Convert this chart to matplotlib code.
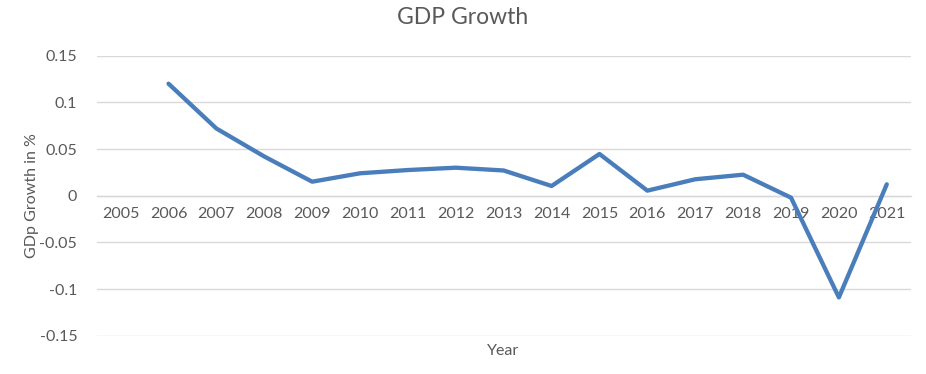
import numpy as np
import matplotlib.pyplot as plt

# values
years = ['2005', '2006', '2007', '2008', '2009', '2010', '2011', '2012', '2013',
         '2014', '2015', '2016', '2017', '2018', '2019', '2020', '2021']
growth = [np.nan, 0.120, 0.072, 0.042, 0.015, 0.024, 0.0275, 0.030, 0.027,
          0.0104, 0.0447, 0.0054, 0.0176, 0.0225, -0.0021, -0.109, 0.0122]
yticks = [-0.15, -0.1, -0.05, 0, 0.05, 0.1, 0.15]
ytick_labels = ['-0.15', '-0.1', '-0.05', '0', '0.05', '0.1', '0.15']

plt.rcParams['font.family'] = ['Lato', 'DejaVu Sans']
grey = '#595959'

fig = plt.figure(figsize=(9.26, 3.74), dpi=100)
ax = fig.add_axes([0.1044, 0.1024, 0.8791, 0.7487])

x = np.arange(len(years))
ax.plot(x, growth, color='#4a7ebb', lw=3.1, solid_capstyle='round', solid_joinstyle='round', zorder=3)

ax.set_xlim(-0.5, len(years) - 0.5)
ax.set_ylim(-0.15, 0.15)
ax.set_yticks(yticks)
ax.set_yticklabels(ytick_labels)
ax.set_xticks(x)
ax.set_xticklabels(years)

for y in yticks:
    ax.axhline(y, color='#d9d9d9', lw=1.0, zorder=1)

for s in ['top', 'right', 'left']:
    ax.spines[s].set_visible(False)
ax.spines['bottom'].set_position(('data', 0))
ax.spines['bottom'].set_color('#d9d9d9')
ax.spines['bottom'].set_linewidth(1.0)

ax.tick_params(axis='x', length=0, pad=8, labelsize=11.5, labelcolor=grey)
ax.tick_params(axis='y', length=0, pad=14, labelsize=11.5, labelcolor=grey)

ax.set_ylabel('GDp Growth in %', fontsize=11.5, color=grey)
ax.yaxis.set_label_coords(-0.071, 0.5)
fig.text(0.5435, 1 - 351 / 374, 'Year', ha='center', va='center', fontsize=11.5, color=grey)
fig.text(0.5, 1 - 18 / 374, 'GDP Growth', ha='center', va='center', fontsize=16.5, color=grey)

fig.savefig('out.png', dpi=100)
